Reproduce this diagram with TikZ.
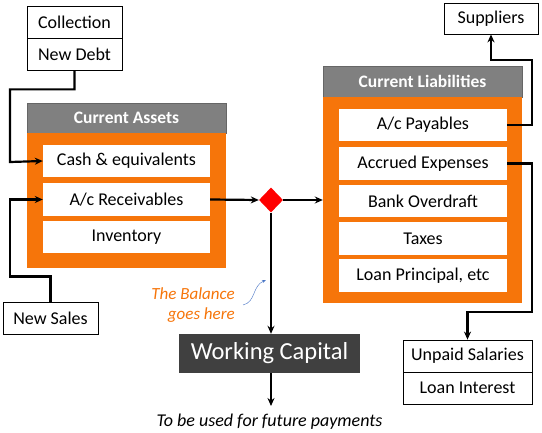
\documentclass[tikz,border=0pt]{standalone}
\usepackage{fontspec}
\setmainfont{Carlito}
\usetikzlibrary{arrows.meta,shapes.geometric}
\definecolor{wcorange}{RGB}{246,117,10}
\definecolor{wcgray}{RGB}{128,128,128}
\definecolor{wcdark}{RGB}{64,64,64}
\definecolor{wcblue}{RGB}{68,114,196}

\begin{document}
\begin{tikzpicture}
[x=1pt, y=-1pt,
    every node/.style={inner sep=0pt, font=\fontsize{18}{21}\selectfont},
    item/.style={fill=white, minimum width=167pt, minimum height=32pt},
    extbox/.style={draw, fill=white, line width=0.8pt, minimum height=32pt},
    header/.style={fill=wcgray, draw=wcgray!80!black, text=white, font=\fontsize{17.5}{21}\selectfont\bfseries, minimum width=199pt},
    group/.style={fill=wcorange, minimum width=199pt},
    flow/.style={line width=2.2pt, -{Stealth[length=8pt,width=7pt]}},
    link/.style={line width=2.2pt}]
    \useasboundingbox (0,0) rectangle (542,433);
    % current assets
    \node[header, minimum height=30pt] (cahead) at (126.5,118) {Current Assets};
    \node[group, minimum height=135pt] (cabody) at (126.5,200.5) {};
    \node[item] (cash) at (126.5,161) {Cash \& equivalents};
    \node[item, minimum height=33pt] (recv) at (126.5,199.5) {A/c Receivables};
    \node[item] (inv) at (126.5,237) {Inventory};
    % current liabilities
    \node[header, minimum height=31pt] (clhead) at (422.5,81.5) {Current Liabilities};
    \node[group, minimum height=206pt] (clbody) at (422.5,200) {};
    \node[item, minimum width=168pt] (pay) at (423,125) {A/c Payables};
    \node[item, minimum width=168pt, minimum height=33pt] (accr) at (423,163.5) {Accrued Expenses};
    \node[item, minimum width=168pt] (bank) at (423,201) {Bank Overdraft};
    \node[item, minimum width=168pt, minimum height=33pt] (tax) at (423,238.5) {Taxes};
    \node[item, minimum width=168pt, minimum height=33pt] (loan) at (423,275.5) {Loan Principal, etc};
    % outside boxes
    \node[extbox, minimum width=95pt] (coll) at (74.5,22) {Collection};
    \node[extbox, minimum width=95pt] (debt) at (74.5,54) {New Debt};
    \node[extbox, minimum width=95pt] (sales) at (50.5,318) {New Sales};
    \node[extbox, minimum width=94pt, minimum height=31pt] (supp) at (491,18.5) {Suppliers};
    \node[extbox, minimum width=129pt] (salary) at (467.5,356) {Unpaid Salaries};
    \node[extbox, minimum width=129pt] (intr) at (467.5,388) {Loan Interest};
    % balance
    \node[diamond, fill=red, minimum width=24pt, minimum height=25pt] (bal) at (271,200) {};
    \node[fill=wcdark, text=white, font=\fontsize{24.5}{28}\selectfont, minimum width=181pt, minimum height=39pt] (wc) at (269.5,353.5) {Working Capital};
    \coordinate (use) at (269.5,406);
    \node[font=\fontsize{18}{21}\selectfont\itshape] (note) at (269.5,422) {To be used for future payments};
    \node[text=wcorange, align=right, anchor=east, font=\fontsize{17}{20}\selectfont\itshape] (hint) at (235,305) {The Balance\\goes here};
    % connectors
    \draw[flow] (debt.south) -- ++(0,19) -| (10,162) -- (cash.west);
    \draw[flow] (sales.north) -- ++(0,-25) -| (10,199.5) -- (recv.west);
    \draw[flow] (recv.east) -- (bal.west);
    \draw[flow] (bal.east) -- (clbody.west |- bal.east);
    \draw[flow] (bal.south) -- (bal.south |- wc.north);
    \draw[flow] (wc.south -| bal.south) -- (use -| bal.south);
    \draw[flow] (pay.east) -| (532,60) -| (supp.south);
    \draw[flow] (accr.east) -| (532,312) -| (salary.north);
    \draw[wcblue, thin, -{Stealth[length=4pt]}] (243,305) .. controls (256,302) and (252,286) .. (266,280);
\end{tikzpicture}
\end{document}
